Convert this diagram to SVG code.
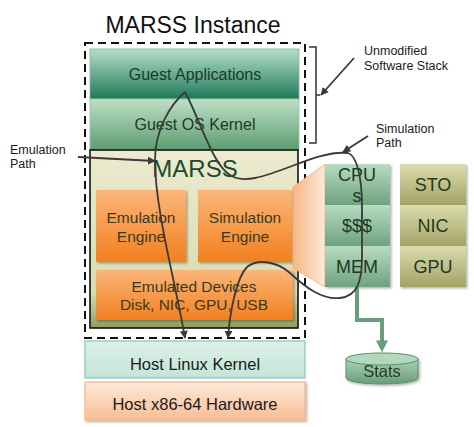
<svg xmlns="http://www.w3.org/2000/svg" width="474" height="427" viewBox="0 0 474 427">
<defs>
<linearGradient id="gApp" x1="0" y1="0" x2="0" y2="1"><stop offset="0" stop-color="#b4dec9"/><stop offset="1" stop-color="#1f7a5a"/></linearGradient>
<linearGradient id="gOS" x1="0" y1="0" x2="0" y2="1"><stop offset="0" stop-color="#bfe0c6"/><stop offset="1" stop-color="#5c9c70"/></linearGradient>
<linearGradient id="gMarss" x1="0" y1="0" x2="0" y2="1"><stop offset="0" stop-color="#ecead0"/><stop offset="0.8" stop-color="#dcdcae"/><stop offset="1" stop-color="#949c5c"/></linearGradient>
<linearGradient id="gOr" x1="0" y1="0" x2="0" y2="1"><stop offset="0" stop-color="#fbb67a"/><stop offset="1" stop-color="#f2801f"/></linearGradient>
<linearGradient id="gTrap" x1="0" y1="0" x2="1" y2="0"><stop offset="0" stop-color="#f7b684"/><stop offset="1" stop-color="#fde9da"/></linearGradient>
<linearGradient id="gCpu" x1="0" y1="0" x2="0" y2="1"><stop offset="0" stop-color="#b8dcc2"/><stop offset="1" stop-color="#6ea27e"/></linearGradient>
<linearGradient id="gSto" x1="0" y1="0" x2="0" y2="1"><stop offset="0" stop-color="#dcdcae"/><stop offset="1" stop-color="#a3a365"/></linearGradient>
<linearGradient id="gHk" x1="0" y1="0" x2="0" y2="1"><stop offset="0" stop-color="#dcf1e8"/><stop offset="1" stop-color="#c2e5d7"/></linearGradient>
<linearGradient id="gHw" x1="0" y1="0" x2="0" y2="1"><stop offset="0" stop-color="#feeadb"/><stop offset="1" stop-color="#f8bd94"/></linearGradient>
<linearGradient id="gStats" x1="0" y1="0" x2="0" y2="1"><stop offset="0" stop-color="#a9d3b5"/><stop offset="1" stop-color="#6a9c78"/></linearGradient>
<filter id="sh" x="-10%" y="-10%" width="130%" height="130%"><feDropShadow dx="1.5" dy="1.5" stdDeviation="1.2" flood-color="#000" flood-opacity="0.3"/></filter>
<marker id="ah" viewBox="0 0 10 10" refX="9" refY="5" markerWidth="8" markerHeight="8" markerUnits="userSpaceOnUse" orient="auto"><path d="M0,0 L10,5 L0,10 z" fill="#3a3a3a"/></marker>
<marker id="ahg" viewBox="0 0 10 10" refX="3" refY="5" markerWidth="12" markerHeight="12" markerUnits="userSpaceOnUse" orient="auto"><path d="M0,0 L10,5 L0,10 z" fill="#6a9e7a"/></marker>
</defs>
<style>
text{font-family:"Liberation Sans",Arial,sans-serif;text-anchor:middle}
.g{fill:#1c3a28;font-size:16px}
.o{fill:#3a3a18;font-size:15.5px}
.c{fill:#1c3a24;font-size:18px}
.h{fill:#1a1a1a;font-size:16.5px}
.lbl{fill:#1a1a1a;font-size:12.5px;text-anchor:start}
.cur{fill:none;stroke:#3a3a3a;stroke-width:1.8}
</style>
<text x="193" y="33" style="font-size:23px;fill:#111">MARSS Instance</text>

<g id="guest-apps"><rect x="90" y="49" width="209" height="50" fill="url(#gApp)" stroke="#7fb898" stroke-width="0.8"/><text class="g" x="195" y="80">Guest Applications</text></g>
<g id="guest-os"><rect x="90" y="99" width="209" height="51" fill="url(#gOS)" stroke="#8fc0a0" stroke-width="0.8"/><text class="g" x="195" y="130">Guest OS Kernel</text></g>
<g id="marss"><rect x="90" y="150" width="208" height="178" fill="url(#gMarss)" stroke="#111" stroke-width="1.6"/><text x="195" y="177" style="font-size:24px;fill:#1a4a2c">MARSS</text></g>
<g id="emu-engine"><rect x="96" y="190" width="90" height="72" fill="url(#gOr)" filter="url(#sh)"/><text class="o" x="141" y="223">Emulation</text><text class="o" x="141" y="242">Engine</text></g>
<g id="sim-engine"><rect x="198" y="190" width="94" height="72" fill="url(#gOr)" filter="url(#sh)"/><text class="o" x="245" y="223">Simulation</text><text class="o" x="245" y="242">Engine</text></g>
<g id="emu-devices"><rect x="96" y="270" width="197" height="50" fill="url(#gOr)" filter="url(#sh)"/><text class="o" x="194" y="292">Emulated Devices</text><text class="o" x="194" y="310">Disk, NIC, GPU, USB</text></g>

<rect id="instance-box" x="85" y="43" width="220" height="295" fill="none" stroke="#111" stroke-width="2" stroke-dasharray="8,5"/>

<g id="bracket"><path d="M309,47 L316,47 L316,143 L309,143 M316,95 L320,95" fill="none" stroke="#333" stroke-width="1.5"/></g>

<g id="trapezoid"><polygon points="293,187 325,164 325,287 293,268" fill="url(#gTrap)" stroke="#f0a878" stroke-width="0.8"/></g>

<g id="cpu-col" filter="url(#sh)">
<rect x="325" y="164" width="65" height="41" fill="url(#gCpu)"/>
<rect x="325" y="205" width="65" height="41" fill="url(#gCpu)"/>
<rect x="325" y="246" width="65" height="41" fill="url(#gCpu)"/>
</g>
<g id="cpus"><text class="c" x="357" y="181">CPU</text><text class="c" x="357" y="202">s</text></g>
<g id="cache"><text class="c" x="357" y="232">$$$</text></g>
<g id="mem"><text class="c" x="357" y="273">MEM</text></g>
<g id="dev-col" filter="url(#sh)">
<rect x="400" y="164" width="66" height="41" fill="url(#gSto)"/>
<rect x="400" y="205" width="66" height="41" fill="url(#gSto)"/>
<rect x="400" y="246" width="66" height="41" fill="url(#gSto)"/>
</g>
<g id="sto"><text class="c" x="433" y="191">STO</text></g>
<g id="nic"><text class="c" x="433" y="232">NIC</text></g>
<g id="gpu"><text class="c" x="433" y="273">GPU</text></g>

<g id="host-kernel"><rect x="85" y="341" width="220" height="37" fill="url(#gHk)" stroke="#8cc4b0" stroke-width="1.2"/><text class="h" x="195" y="370">Host Linux Kernel</text></g>
<g id="host-hw"><rect x="85" y="382" width="220" height="38" fill="url(#gHw)" stroke="#f2b48a" stroke-width="1.2" filter="url(#sh)"/><text class="h" x="195" y="410">Host x86-64 Hardware</text></g>

<g id="stats" filter="url(#sh)"><path d="M346,359 L346,378 A36,6 0 0 0 418,378 L418,359 Z" fill="url(#gStats)" stroke="#5e8e6c" stroke-width="1"/><ellipse cx="382" cy="359" rx="36" ry="6" fill="#b2d8bd" stroke="#5e8e6c" stroke-width="1"/><text class="h" x="382" y="377" style="fill:#1c3a24">Stats</text></g>

<g id="labels">
<text class="lbl" x="364" y="55">Unmodified</text><text class="lbl" x="364" y="70">Software Stack</text>
<text class="lbl" x="376" y="133">Simulation</text><text class="lbl" x="376" y="147">Path</text>
<text class="lbl" x="10" y="154">Emulation</text><text class="lbl" x="10" y="168">Path</text>
</g>

<g id="connectors">
<path d="M357,287 L357,320 L382,320 L382,344" fill="none" stroke="#6a9e7a" stroke-width="4" marker-end="url(#ahg)"/>
<path class="cur" d="M185,92 C170,105 155,130 155,160 C155,210 175,280 185,338" marker-end="url(#ah)"/>
<path class="cur" d="M185,92 C195,110 205,140 215,157 C225,175 235,182 255,178 C285,172 320,150 348,153 C356,155 362,175 362,207 L362,257 C362,280 358,296 340,298 C322,300 305,287 290,273 C278,262 258,258 247,267 C237,277 230,310 228,338" marker-end="url(#ah)"/>
<line x1="354" y1="58" x2="321" y2="95" stroke="#3a3a3a" stroke-width="1.8" marker-end="url(#ah)"/>
<line x1="368" y1="136" x2="343" y2="152" stroke="#3a3a3a" stroke-width="1.8" marker-end="url(#ah)"/>
<line x1="78" y1="157" x2="155" y2="161" stroke="#3a3a3a" stroke-width="1.8" marker-end="url(#ah)"/>
</g>
</svg>
